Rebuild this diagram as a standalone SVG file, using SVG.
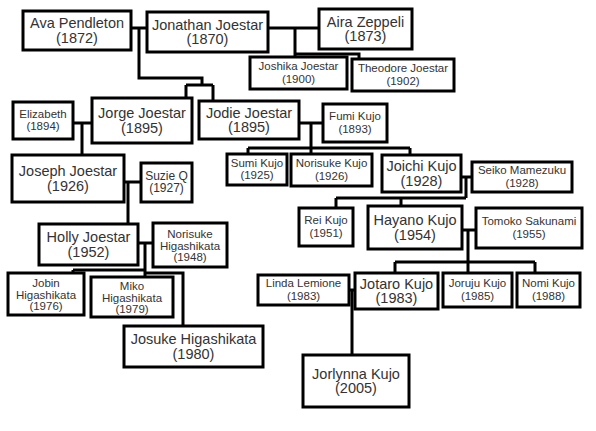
<svg xmlns="http://www.w3.org/2000/svg" width="596" height="431" viewBox="0 0 596 431">
<style>
.box{fill:#fff;stroke:#000;stroke-width:3}
.c{fill:none;stroke:#000;stroke-width:3;stroke-linejoin:miter}
text{font-family:"Liberation Sans",Arial,sans-serif;fill:#333;text-anchor:middle}
.L{font-size:14.5px}
.S{font-size:11.5px}
</style>
<rect width="596" height="431" fill="#fff"/>
<g id="connectors">
<path class="c" d="M131,28H147M139,28V78H202V85M186,85H213M186,85V98M213,85V101"/>
<path class="c" d="M268,28H319M295,28V57M295,54H359V59"/>
<path class="c" d="M73,123H92M82,123V155"/>
<path class="c" d="M299,123H323M311,123V148M248,148H410M248,148V154M311,148V154M410,148V155"/>
<path class="c" d="M124,182H141M128,182V224"/>
<path class="c" d="M138,243H153M145,243V277M73,270H145M73,270V273M145,273H183V326"/>
<path class="c" d="M461,177H472M466,177V198M336,198H466M336,198V208M401,198V206"/>
<path class="c" d="M462,230H476M468,230V273M395,262H535M395,262V273M535,262V273"/>
<path class="c" d="M349,290H355M352,290V355"/>
</g>
<g id="ava"><rect class="box" x="23" y="11" width="108" height="39"/><text class="L" x="77" y="28">Ava Pendleton</text><text class="L" x="77" y="42.5">(1872)</text></g>
<g id="jonathan"><rect class="box" x="147" y="12" width="121" height="40"/><text class="L" x="207.5" y="29.5">Jonathan Joestar</text><text class="L" x="207.5" y="44">(1870)</text></g>
<g id="aira"><rect class="box" x="319" y="9" width="93" height="40"/><text class="L" x="365.5" y="26.5">Aira Zeppeli</text><text class="L" x="365.5" y="41">(1873)</text></g>
<g id="joshika"><rect class="box" x="250" y="57" width="97" height="32"/><text class="S" x="298.5" y="70">Joshika Joestar</text><text class="S" x="298.5" y="82.5">(1900)</text></g>
<g id="theodore"><rect class="box" x="352" y="59" width="102" height="32"/><text class="S" x="403" y="72">Theodore Joestar</text><text class="S" x="403" y="84.5">(1902)</text></g>
<g id="elizabeth"><rect class="box" x="13" y="102" width="60" height="37"/><text class="S" x="43" y="117.5">Elizabeth</text><text class="S" x="43" y="130">(1894)</text></g>
<g id="jorge"><rect class="box" x="92" y="98" width="100" height="45"/><text class="L" x="142" y="118">Jorge Joestar</text><text class="L" x="142" y="132.5">(1895)</text></g>
<g id="jodie"><rect class="box" x="199" y="101" width="100" height="38"/><text class="L" x="249" y="117.5">Jodie Joestar</text><text class="L" x="249" y="132">(1895)</text></g>
<g id="fumi"><rect class="box" x="323" y="104" width="64" height="38"/><text class="S" x="355" y="120">Fumi Kujo</text><text class="S" x="355" y="132.5">(1893)</text></g>
<g id="joseph"><rect class="box" x="12" y="155" width="112" height="47"/><text class="L" x="68" y="176">Joseph Joestar</text><text class="L" x="68" y="190.5">(1926)</text></g>
<g id="suzie"><rect class="box" x="141" y="163" width="51" height="39"/><text class="S" x="166.5" y="179.5" style="font-size:12px">Suzie Q</text><text class="S" x="166.5" y="192" style="font-size:12px">(1927)</text></g>
<g id="sumi"><rect class="box" x="227" y="154" width="60" height="31"/><text class="S" x="257" y="166.5">Sumi Kujo</text><text class="S" x="257" y="179">(1925)</text></g>
<g id="norisuke-kujo"><rect class="box" x="291" y="154" width="81" height="32"/><text class="S" x="331.5" y="167">Norisuke Kujo</text><text class="S" x="331.5" y="179.5">(1926)</text></g>
<g id="joichi"><rect class="box" x="382" y="155" width="79" height="37"/><text class="L" x="421.5" y="171">Joichi Kujo</text><text class="L" x="421.5" y="185.5">(1928)</text></g>
<g id="seiko"><rect class="box" x="472" y="162" width="100" height="30"/><text class="S" x="522" y="174">Seiko Mamezuku</text><text class="S" x="522" y="186.5">(1928)</text></g>
<g id="holly"><rect class="box" x="39" y="224" width="99" height="41"/><text class="L" x="88.5" y="242">Holly Joestar</text><text class="L" x="88.5" y="256.5">(1952)</text></g>
<g id="norisuke-higashikata"><rect class="box" x="153" y="223" width="74" height="44"/><text class="S" x="190" y="237.5">Norisuke</text><text class="S" x="190" y="249.5">Higashikata</text><text class="S" x="190" y="261">(1948)</text></g>
<g id="rei"><rect class="box" x="299" y="208" width="54" height="38"/><text class="S" x="326" y="224">Rei Kujo</text><text class="S" x="326" y="236.5">(1951)</text></g>
<g id="hayano"><rect class="box" x="368" y="206" width="94" height="43"/><text class="L" x="415" y="225">Hayano Kujo</text><text class="L" x="415" y="239.5">(1954)</text></g>
<g id="tomoko"><rect class="box" x="476" y="208" width="106" height="40"/><text class="S" x="529" y="225">Tomoko Sakunami</text><text class="S" x="529" y="237.5">(1955)</text></g>
<g id="jobin"><rect class="box" x="8" y="273" width="76" height="42"/><text class="S" x="46" y="286.5">Jobin</text><text class="S" x="46" y="298.5">Higashikata</text><text class="S" x="46" y="310">(1976)</text></g>
<g id="miko"><rect class="box" x="91" y="277" width="82" height="40"/><text class="S" x="132" y="289.5">Miko</text><text class="S" x="132" y="301.5">Higashikata</text><text class="S" x="132" y="313">(1979)</text></g>
<g id="josuke"><rect class="box" x="124" y="326" width="139" height="41"/><text class="L" x="193.5" y="344">Josuke Higashikata</text><text class="L" x="193.5" y="358.5">(1980)</text></g>
<g id="linda"><rect class="box" x="258" y="275" width="91" height="30"/><text class="S" x="303.5" y="287">Linda Lemione</text><text class="S" x="303.5" y="299.5">(1983)</text></g>
<g id="jotaro"><rect class="box" x="355" y="273" width="83" height="36"/><text class="L" x="396.5" y="288.5">Jotaro Kujo</text><text class="L" x="396.5" y="303">(1983)</text></g>
<g id="joruju"><rect class="box" x="443" y="273" width="69" height="34"/><text class="S" x="477.5" y="287">Joruju Kujo</text><text class="S" x="477.5" y="299.5">(1985)</text></g>
<g id="nomi"><rect class="box" x="517" y="273" width="63" height="34"/><text class="S" x="548.5" y="287">Nomi Kujo</text><text class="S" x="548.5" y="299.5">(1988)</text></g>
<g id="jorlynna"><rect class="box" x="303" y="355" width="106" height="52"/><text class="L" x="356" y="378.5">Jorlynna Kujo</text><text class="L" x="356" y="393">(2005)</text></g>
</svg>
